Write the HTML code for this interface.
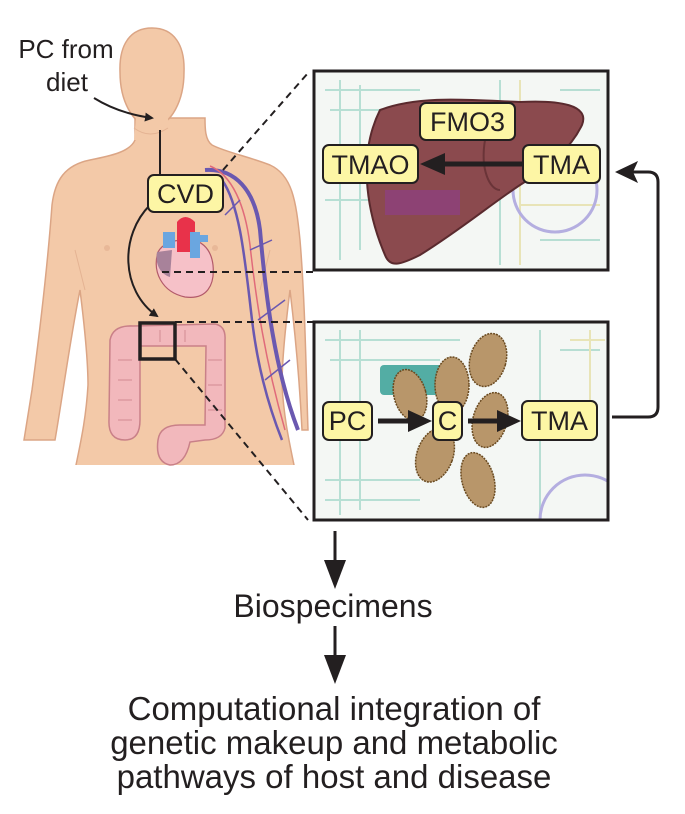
<!DOCTYPE html>
<html><head><style>
html,body{margin:0;padding:0;background:#fff;}
svg{display:block;}
text{font-family:"Liberation Sans",Arial,sans-serif;fill:#231f20;}
</style></head><body>
<svg width="685" height="814" viewBox="0 0 685 814" xmlns="http://www.w3.org/2000/svg">
<defs>
<marker id="ah" markerWidth="9" markerHeight="9" refX="7" refY="4.5" orient="auto" markerUnits="userSpaceOnUse"><path d="M0,0 L9,4.5 L0,9 Z" fill="#231f20"/></marker>
<clipPath id="c1"><rect x="314" y="71" width="294" height="199"/></clipPath>
<clipPath id="c2"><rect x="314" y="322" width="294" height="198"/></clipPath>
<clipPath id="cb"><path d="M0,0 H685 V465 H0 Z"/></clipPath>
</defs>
<!-- body -->
<g clip-path="url(#cb)">
<path d="M135,118 L135,140 C130,152 110,156 90,160 C65,165 55,180 52,205 C48,260 40,330 32,390 L24,440 L55,440 C62,400 70,340 80,290 C85,330 88,360 88,385 C86,420 80,445 75,470 L295,470 C290,445 284,420 282,385 C282,360 285,330 290,290 C296,340 300,390 302,430 L308,430 C306,370 305,300 300,240 C296,200 292,175 270,165 C250,157 225,152 212,145 C205,140 205,128 205,118 Z" fill="#f3c9a8" stroke="#dba585" stroke-width="1.5"/>
</g>
<path d="M152,28 C130,28 119,45 120,72 C120,100 132,125 152,128 C172,125 184,100 184,72 C185,45 174,28 152,28 Z" fill="#f3c9a8" stroke="#dba585" stroke-width="1.5"/>
<path d="M136,118 L168,118 L170,140 L134,140 Z" fill="#f3c9a8"/>
<path d="M134,128 Q150,140 168,128" stroke="#e4b393" fill="none"/>
<path d="M75,250 Q80,270 85,290 M270,250 Q265,270 260,290" stroke="#e4b393" fill="none"/>
<circle cx="107" cy="248" r="3" fill="#e8b898"/><circle cx="215" cy="248" r="3" fill="#e8b898"/>
<!-- veins -->
<path d="M205,170 C235,168 255,190 260,230 C266,300 275,370 298,430" stroke="#6a58b0" stroke-width="4" fill="none"/>
<path d="M210,166 C232,175 245,205 250,245 C256,300 265,360 285,430" stroke="#e06a7a" stroke-width="1.5" fill="none"/>
<path d="M222,180 C240,205 245,260 252,320 C258,370 270,410 282,440" stroke="#6a58b0" stroke-width="2.5" fill="none"/>
<path d="M240,200 L225,215 M250,250 L272,240 M258,320 L285,300 M265,380 L290,360" stroke="#6a58b0" stroke-width="1.5" fill="none"/>
<!-- heart -->
<path d="M158,252 C152,272 162,292 185,297 C207,300 215,285 213,265 C211,248 200,238 185,240 C173,240 163,243 158,252 Z" fill="#f6c1c8" stroke="#b25a6a" stroke-width="1.2"/>
<path d="M157,252 C155,264 160,274 170,277 L172,250 Z" fill="#a8829a"/>
<path d="M177,252 L177,222 Q185,212 195,222 L195,252 Z" fill="#e8324a"/>
<rect x="190" y="232" width="10" height="26" fill="#6aa6e0"/>
<rect x="196" y="235" width="12" height="7" fill="#6aa6e0"/>
<rect x="163" y="232" width="12" height="16" fill="#6aa6e0"/>
<!-- colon -->
<g stroke="#c98088" stroke-width="1.5" fill="#f2b8bc">
<path d="M110,340 Q113,325 133,326 L215,324 Q226,326 225,340 L225,428 Q222,440 205,440 L190,442 Q185,465 170,465 Q155,462 158,440 Q160,425 180,425 L205,425 L206,346 L140,346 L140,420 Q140,440 125,440 Q108,440 109,420 Z"/>
</g>
<path d="M118,360 H132 M118,380 H132 M118,400 H132 M118,420 H132 M160,330 V342 M185,330 V342 M208,360 H222 M208,385 H222 M208,410 H222" stroke="#d8939a" stroke-width="1.2"/>
<!-- PC from diet -->
<text x="66" y="58" font-size="26" text-anchor="middle">PC from</text>
<text x="67" y="91" font-size="26" text-anchor="middle">diet</text>
<path d="M94,98 C110,108 130,115 152,118" stroke="#231f20" stroke-width="2" fill="none" marker-end="url(#ah)"/>
<line x1="160" y1="130" x2="160" y2="176" stroke="#231f20" stroke-width="2"/>
<path d="M150,205 C120,235 120,290 157,316" stroke="#231f20" stroke-width="2" fill="none" marker-end="url(#ah)"/>
<rect x="148" y="175" width="75" height="37" rx="6" fill="#fdf6a5" stroke="#231f20" stroke-width="2"/>
<text x="185.5" y="203" font-size="27" text-anchor="middle">CVD</text>
<rect x="140" y="323" width="35" height="36" fill="none" stroke="#231f20" stroke-width="3.5"/>
<!-- dashed lines -->
<g stroke="#231f20" stroke-width="2" stroke-dasharray="7,5" fill="none">
<line x1="223" y1="170" x2="308" y2="73"/>
<line x1="162" y1="272" x2="313" y2="272"/>
<line x1="175" y1="322" x2="313" y2="322"/>
<line x1="175" y1="359" x2="308" y2="520"/>
</g>
<!-- top box -->
<rect x="314" y="71" width="294" height="199" fill="#f4f7f4"/>
<g clip-path="url(#c1)">
<g stroke="#a8d8cc" stroke-width="2" fill="none" opacity="0.8">
<path d="M325,90 H420 M330,110 H400 M340,80 V260 M360,85 V250 M500,80 V265 M560,90 H600 M540,240 H600 M325,200 H380"/>
<path d="M520,80 V265 M520,205 H600" stroke="#e6e0a8"/>
</g>
<circle cx="555" cy="190" r="42" stroke="#b4aee0" stroke-width="3" fill="none"/>
<path d="M380,110 C420,95 470,100 520,102 C560,100 590,105 582,125 C570,150 545,170 520,185 C490,205 460,230 420,255 C400,265 390,268 385,255 C370,220 355,160 380,110 Z" fill="#8b4a4e" stroke="#5a2a2e" stroke-width="2"/>
<path d="M485,140 C480,170 490,190 500,190" stroke="#6a3438" stroke-width="2" fill="none"/>
<rect x="385" y="190" width="75" height="25" fill="#8e3f84" opacity="0.7"/>
</g>
<rect x="314" y="71" width="294" height="199" fill="none" stroke="#231f20" stroke-width="3"/>
<line x1="522" y1="164" x2="440" y2="164" stroke="#231f20" stroke-width="5"/>
<path d="M420,164 L445,153 L445,175 Z" fill="#231f20"/>
<rect x="420" y="103" width="95" height="37" rx="6" fill="#fdf6a5" stroke="#231f20" stroke-width="2"/>
<text x="467.5" y="131" font-size="27" text-anchor="middle">FMO3</text>
<rect x="323" y="145" width="95" height="38" rx="6" fill="#fdf6a5" stroke="#231f20" stroke-width="2"/>
<text x="370.5" y="174" font-size="27" text-anchor="middle">TMAO</text>
<rect x="523" y="145" width="77" height="38" rx="6" fill="#fdf6a5" stroke="#231f20" stroke-width="2"/>
<text x="561.5" y="174" font-size="27" text-anchor="middle">TMA</text>
<!-- bottom box -->
<rect x="314" y="322" width="294" height="198" fill="#f4f7f4"/>
<g clip-path="url(#c2)">
<g stroke="#a8d8cc" stroke-width="2" fill="none" opacity="0.8">
<path d="M325,340 H460 M330,360 H440 M340,330 V515 M360,330 V510 M325,480 H420 M325,500 H420 M540,330 V515 M560,350 H600"/>
<path d="M590,330 V420 M570,340 H605" stroke="#e6e0a8"/>
</g>
<circle cx="585" cy="520" r="45" stroke="#b4aee0" stroke-width="3" fill="none"/>
<rect x="380" y="365" width="85" height="30" rx="4" fill="#2a9a90" opacity="0.8"/>
<g fill="#b8966a" stroke="#6a4a20" stroke-width="1.5" stroke-dasharray="2,1">
<ellipse cx="410" cy="395" rx="16" ry="26" transform="rotate(-15 410 395)"/>
<ellipse cx="452" cy="385" rx="17" ry="28"/>
<ellipse cx="488" cy="360" rx="18" ry="27" transform="rotate(15 488 360)"/>
<ellipse cx="490" cy="420" rx="17" ry="28" transform="rotate(15 490 420)"/>
<ellipse cx="435" cy="455" rx="18" ry="28" transform="rotate(20 435 455)"/>
<ellipse cx="478" cy="480" rx="16" ry="28" transform="rotate(-15 478 480)"/>
</g>
</g>
<rect x="314" y="322" width="294" height="198" fill="none" stroke="#231f20" stroke-width="3"/>
<line x1="378" y1="421" x2="415" y2="421" stroke="#231f20" stroke-width="5"/>
<path d="M432,421 L408,410 L408,432 Z" fill="#231f20"/>
<line x1="468" y1="421" x2="505" y2="421" stroke="#231f20" stroke-width="5"/>
<path d="M521,421 L497,410 L497,432 Z" fill="#231f20"/>
<rect x="323" y="402" width="49" height="38" rx="6" fill="#fdf6a5" stroke="#231f20" stroke-width="2"/>
<text x="347.5" y="430" font-size="27" text-anchor="middle">PC</text>
<rect x="433" y="402" width="29" height="38" rx="6" fill="#fdf6a5" stroke="#231f20" stroke-width="2"/>
<text x="447.5" y="430" font-size="27" text-anchor="middle">C</text>
<rect x="522" y="401" width="75" height="39" rx="6" fill="#fdf6a5" stroke="#231f20" stroke-width="2"/>
<text x="559.5" y="430" font-size="27" text-anchor="middle">TMA</text>
<!-- feedback connector -->
<path d="M612,417 H648 Q658,417 658,407 V182 Q658,172 648,172 H628" stroke="#231f20" stroke-width="3" fill="none"/>
<path d="M615,172 L638,161 L633,172 L638,183 Z" fill="#231f20"/>
<!-- bottom flow -->
<line x1="335" y1="531" x2="335" y2="565" stroke="#231f20" stroke-width="3"/>
<path d="M335,589 L324,560 L346,560 Z" fill="#231f20"/>
<text x="333" y="617" font-size="32" text-anchor="middle">Biospecimens</text>
<line x1="335" y1="626" x2="335" y2="660" stroke="#231f20" stroke-width="3"/>
<path d="M335,684 L324,655 L346,655 Z" fill="#231f20"/>
<text x="334" y="720" font-size="33" text-anchor="middle">Computational integration of</text>
<text x="334" y="754" font-size="33" text-anchor="middle">genetic makeup and metabolic</text>
<text x="334" y="788" font-size="33" text-anchor="middle">pathways of host and disease</text>
</svg>
</body></html>
